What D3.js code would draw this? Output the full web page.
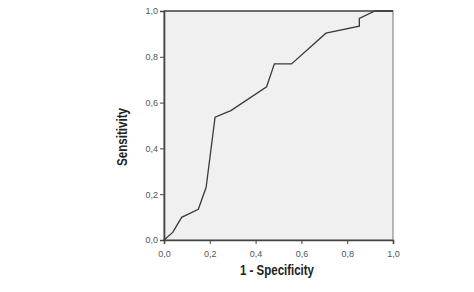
<!DOCTYPE html>
<html>
<head>
<meta charset="utf-8">
<script src="https://cdn.jsdelivr.net/npm/d3@7"></script>
<style>
  body { margin: 0; background: #fff; }
  svg { font-family: "Liberation Sans", Arial, sans-serif; }
</style>
</head>
<body>
<svg id="chart" width="474" height="292"></svg>
<script>
// ROC curve points
var fpr  = [0, 0.038, 0.077, 0.15, 0.184, 0.223, 0.292, 0.448, 0.482, 0.557, 0.707, 0.853, 0.853, 0.921, 1];
var sens = [0, 0.033, 0.099, 0.134, 0.23, 0.536, 0.565, 0.669, 0.769, 0.769, 0.903, 0.934, 0.968, 1, 1];
var ticks = [0, 0.2, 0.4, 0.6, 0.8, 1.0];

var margin = {top: 11, left: 164},
    width = 229,
    height = 229;

var svg = d3.select("#chart");
var g = svg.append("g").attr("transform", "translate(" + margin.left + "," + margin.top + ")");

var x = d3.scaleLinear().domain([0, 1]).range([0, width]);
var y = d3.scaleLinear().domain([0, 1]).range([height, 0]);
var fmt = function(d) { return d3.format(".1f")(d).replace(".", ","); };

// plot background + frame
g.append("rect")
    .attr("width", width)
    .attr("height", height)
    .attr("fill", "#f0f0f0")
    .attr("stroke", "#8a8a8a")
    .attr("stroke-width", 1.2);

g.append("line")
    .attr("x1", 0).attr("x2", width)
    .attr("y1", 0).attr("y2", 0)
    .attr("stroke", "#555").attr("stroke-width", 1.6);

var xAxis = g.append("g")
    .attr("transform", "translate(0," + height + ")")
    .call(d3.axisBottom(x).tickValues(ticks).tickFormat(fmt).tickSize(4).tickPadding(7));

var yAxis = g.append("g")
    .call(d3.axisLeft(y).tickValues(ticks).tickFormat(fmt).tickSize(4).tickPadding(2));

[xAxis, yAxis].forEach(function(a) {
  a.select(".domain").attr("stroke", "#444").attr("stroke-width", 1.6);
  a.selectAll(".tick line").attr("stroke", "#444");
  a.selectAll(".tick text").attr("fill", "#555").style("font-size", "9px");
});

var pts = fpr.map(function(d, i) { return [d, sens[i]]; });

g.append("path")
    .datum(pts)
    .attr("fill", "none")
    .attr("stroke", "#3a3a3a")
    .attr("stroke-width", 1.3)
    .attr("d", d3.line().x(function(d) { return x(d[0]); }).y(function(d) { return y(d[1]); }));

// titles are a condensed bold face in the original, so squeeze them a bit
svg.append("text")
    .attr("x", 277)
    .attr("y", 275)
    .attr("text-anchor", "middle")
    .attr("fill", "#222")
    .attr("textLength", 74)
    .attr("lengthAdjust", "spacingAndGlyphs")
    .style("font-size", "14px")
    .style("font-weight", "bold")
    .text("1 - Specificity");

svg.append("text")
    .attr("transform", "translate(127,137) rotate(-90)")
    .attr("text-anchor", "middle")
    .attr("fill", "#222")
    .attr("textLength", 58)
    .attr("lengthAdjust", "spacingAndGlyphs")
    .style("font-size", "14px")
    .style("font-weight", "bold")
    .text("Sensitivity");
</script>
</body>
</html>
